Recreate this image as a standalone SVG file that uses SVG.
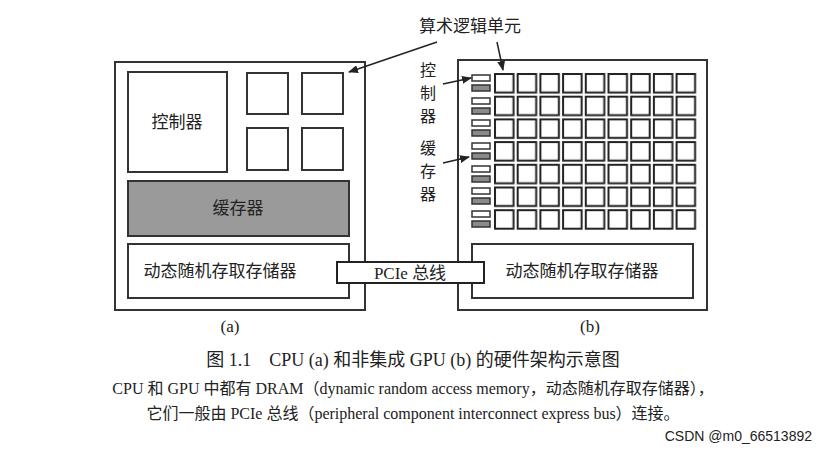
<svg xmlns="http://www.w3.org/2000/svg" width="827" height="454" viewBox="0 0 827 454">
<style>
.b{fill:#fff;stroke:#333;stroke-width:2}
.g{fill:#9a9a9a;stroke:#333;stroke-width:2}
.c{fill:#fff;stroke:#222;stroke-width:2}
.s{fill:#fff;stroke:#333;stroke-width:1.5}
.sg{fill:#8a8a8a;stroke:#333;stroke-width:1.5}
text{font-family:"Liberation Serif","Noto Sans CJK SC",serif;fill:#222}
.t{font-size:17px}
.k{font-family:"Noto Sans CJK SC",sans-serif;font-size:17px}
.v{font-family:"Noto Sans CJK SC",sans-serif;font-size:16px}
</style>
<defs><marker id="a" markerWidth="10" markerHeight="8" refX="9" refY="4" orient="auto" markerUnits="userSpaceOnUse"><path d="M0,0L10,4L0,8z" fill="#222"/></marker>
<pattern id="grid" x="494" y="73" width="22.7" height="22.7" patternUnits="userSpaceOnUse"><rect x="1" y="1" width="18.5" height="18.5" fill="#fff" stroke="#222" stroke-width="2"/></pattern></defs>
<rect width="827" height="454" fill="#fff"/>
<g id="cpu">
<rect class="b" x="115" y="62" width="250" height="248"/>
<g id="cpu-ctrl"><rect class="b" x="128" y="72" width="99" height="100"/><text class="k" x="177" y="128" text-anchor="middle">控制器</text></g>
<g id="cpu-alu"><rect class="b" x="247" y="73" width="41" height="41"/><rect class="b" x="302" y="73" width="41" height="41"/><rect class="b" x="247" y="128" width="41" height="42"/><rect class="b" x="302" y="128" width="41" height="42"/></g>
<g id="cpu-cache"><rect class="g" x="128" y="181" width="221" height="55"/><text class="k" x="238" y="214" text-anchor="middle">缓存器</text></g>
<g id="cpu-dram"><rect class="b" x="128" y="244" width="221" height="54"/><text class="k" x="220" y="277" text-anchor="middle">动态随机存取存储器</text></g>
</g>
<g id="gpu">
<rect class="b" x="458" y="60" width="249" height="250"/>
<rect x="493" y="72" width="204.3" height="158.9" fill="url(#grid)"/>
<g id="gpu-ctrlcache">
<rect class="s" x="472" y="75" width="18" height="6"/><rect class="sg" x="472" y="85" width="18" height="6"/>
<rect class="s" x="472" y="98" width="18" height="6"/><rect class="sg" x="472" y="108" width="18" height="6"/>
<rect class="s" x="472" y="120" width="18" height="6"/><rect class="sg" x="472" y="130" width="18" height="6"/>
<rect class="s" x="472" y="143" width="18" height="6"/><rect class="sg" x="472" y="153" width="18" height="6"/>
<rect class="s" x="472" y="166" width="18" height="6"/><rect class="sg" x="472" y="176" width="18" height="6"/>
<rect class="s" x="472" y="188" width="18" height="6"/><rect class="sg" x="472" y="198" width="18" height="6"/>
<rect class="s" x="472" y="211" width="18" height="6"/><rect class="sg" x="472" y="221" width="18" height="6"/>
</g>
<g id="gpu-dram"><rect class="b" x="472" y="244" width="221" height="54"/><text class="k" x="582" y="277" text-anchor="middle">动态随机存取存储器</text></g>
</g>
<g id="pcie"><rect class="c" x="337" y="262" width="147" height="21"/><text class="t" x="410" y="279" text-anchor="middle">PCIe 总线</text></g>
<g id="labels">
<text class="k" x="470" y="32" text-anchor="middle">算术逻辑单元</text>
<text class="v" x="428" y="76" text-anchor="middle">控</text>
<text class="v" x="428" y="99" text-anchor="middle">制</text>
<text class="v" x="428" y="122" text-anchor="middle">器</text>
<text class="v" x="428" y="154" text-anchor="middle">缓</text>
<text class="v" x="428" y="177" text-anchor="middle">存</text>
<text class="v" x="428" y="200" text-anchor="middle">器</text>
</g>
<g id="connectors" stroke="#222" stroke-width="1.5" fill="none">
<path d="M437,42L349,72" marker-end="url(#a)"/>
<path d="M497,42L503,70" marker-end="url(#a)"/>
<path d="M443,84L471,78" marker-end="url(#a)"/>
<path d="M443,163L469,157" marker-end="url(#a)"/>
</g>
<g id="captions">
<text class="t" x="230" y="332" text-anchor="middle">(a)</text>
<text class="t" x="590" y="332" text-anchor="middle">(b)</text>
<text x="413" y="366" text-anchor="middle" font-size="18">图 1.1　CPU (a) 和非集成 GPU (b) 的硬件架构示意图</text>
<text x="413" y="394" text-anchor="middle" font-size="16">CPU 和 GPU 中都有 DRAM（dynamic random access memory，动态随机存取存储器），</text>
<text x="413" y="419" text-anchor="middle" font-size="16">它们一般由 PCIe 总线（peripheral component interconnect express bus）连接。</text>
<text x="812" y="441" text-anchor="end" font-size="14" style="font-family:'Liberation Sans',sans-serif" fill="#888">CSDN @m0_66513892</text>
</g>
</svg>
